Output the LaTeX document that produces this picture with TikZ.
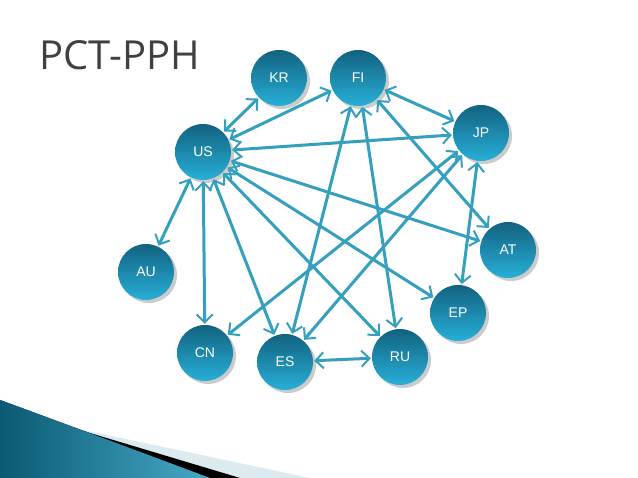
\documentclass[tikz,border=0pt]{standalone}
\usepackage{fontspec}
\setmainfont{Liberation Sans}
\newfontfamily\titlefont{Open Sans}
\usetikzlibrary{arrows.meta,shadows}
\definecolor{edgec}{RGB}{52,160,190}
\definecolor{topc}{RGB}{18,98,128}
\definecolor{botc}{RGB}{40,175,215}
\definecolor{titlec}{RGB}{64,64,64}
\tikzset{
  cnode/.style={circle,minimum size=56pt,inner sep=0pt,top color=topc,bottom color=botc,
    text=white,font=\fontsize{14}{14}\selectfont,drop shadow={shadow xshift=3pt,shadow yshift=-3pt,fill=black!25,opacity=0.8}},
  link/.style={draw=edgec,line width=3pt,{Straight Barb[length=8pt,width=16pt,line width=2pt]}-{Straight Barb[length=8pt,width=16pt,line width=2pt]},shorten <=1pt,shorten >=1pt},
}
\begin{document}
\begin{tikzpicture}[x=1pt,y=-1pt]
\useasboundingbox (0,0) rectangle (638,478);
\fill[white] (0,0) rectangle (638,478);
% bottom decoration
\fill[cyan!20!teal!15] (55,424) -- (310,478) -- (225,478) -- cycle;
\fill[black] (30,415) -- (240,478) -- (195,478) -- cycle;
\fill[left color={rgb,255:red,10;green,90;blue,115}, right color={rgb,255:red,70;green,170;blue,200}] (0,400) .. controls (60,422) and (130,448) .. (210,478) -- (0,478) -- cycle;
\node[font=\titlefont\fontsize{40}{40}\selectfont,text=titlec,anchor=base west] (title) at (36,70) {PCT-PPH};
% nodes
\node[cnode] (KR) at (279,78) {KR};
\node[cnode] (FI) at (358,78) {FI};
\node[cnode] (JP) at (481,133) {JP};
\node[cnode] (US) at (203,152) {US};
\node[cnode] (AT) at (508,250) {AT};
\node[cnode] (AU) at (146,272) {AU};
\node[cnode] (EP) at (458,313) {EP};
\node[cnode] (CN) at (205,353) {CN};
\node[cnode] (ES) at (285,362) {ES};
\node[cnode] (RU) at (400,357) {RU};
% edges
\draw[link] (US) -- (KR);
\draw[link] (US) -- (FI);
\draw[link] (US) -- (JP);
\draw[link] (US) -- (AT);
\draw[link] (US) -- (EP);
\draw[link] (US) -- (RU);
\draw[link] (US) -- (ES);
\draw[link] (US) -- (CN);
\draw[link] (US) -- (AU);
\draw[link] (FI) -- (JP);
\draw[link] (FI) -- (AT);
\draw[link] (FI) -- (RU);
\draw[link] (FI) -- (ES);
\draw[link] (JP) -- (CN);
\draw[link] (JP) -- (ES);
\draw[link] (JP) -- (EP);
\draw[link] (ES) -- (RU);
\end{tikzpicture}
\end{document}
